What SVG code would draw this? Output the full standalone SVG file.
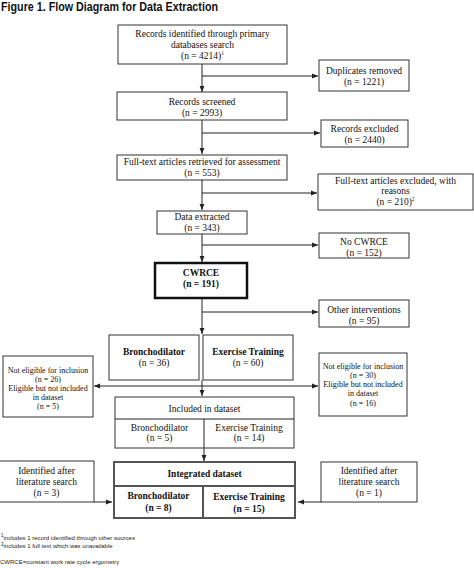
<svg xmlns="http://www.w3.org/2000/svg" width="474" height="568" viewBox="0 0 474 568">
<defs>
<marker id="ah" viewBox="0 0 10 10" refX="10" refY="5" markerWidth="6" markerHeight="6" markerUnits="userSpaceOnUse" orient="auto-start-reverse">
<path d="M0,1 L10,5 L0,9 Z" fill="#222"/>
</marker>
</defs>
<style>
.bx{fill:#fff;stroke:#333;stroke-width:1}
.t{font-family:"Liberation Serif","Times New Roman",serif;font-size:9.5px;fill:#111;text-anchor:middle}
.s{font-size:8px}
.b{font-weight:bold}
.ln{fill:none;stroke:#222;stroke-width:1}
.fn{font-family:"Liberation Sans",Arial,sans-serif;font-size:6px;fill:#222}
</style>
<rect width="474" height="568" fill="#fff"/>
<text x="1" y="11" font-family="'Liberation Sans Narrow','Liberation Sans',Arial,sans-serif" font-weight="bold" font-size="13" textLength="217" lengthAdjust="spacingAndGlyphs" fill="#111">Figure 1. Flow Diagram for Data Extraction</text>

<g id="connectors">
<line class="ln" x1="202" y1="64" x2="202" y2="92" marker-end="url(#ah)"/>
<line class="ln" x1="202" y1="76" x2="318" y2="76" marker-end="url(#ah)"/>
<line class="ln" x1="202" y1="120" x2="202" y2="154" marker-end="url(#ah)"/>
<line class="ln" x1="202" y1="133" x2="320" y2="133" marker-end="url(#ah)"/>
<line class="ln" x1="202" y1="180" x2="202" y2="210" marker-end="url(#ah)"/>
<line class="ln" x1="202" y1="193" x2="317" y2="193" marker-end="url(#ah)"/>
<line class="ln" x1="202" y1="234" x2="202" y2="262" marker-end="url(#ah)"/>
<line class="ln" x1="202" y1="245" x2="318" y2="245" marker-end="url(#ah)"/>
<line class="ln" x1="202" y1="298" x2="202" y2="334" marker-end="url(#ah)"/>
<line class="ln" x1="202" y1="312" x2="318" y2="312" marker-end="url(#ah)"/>
<line class="ln" x1="202" y1="380" x2="202" y2="396" marker-end="url(#ah)"/>
<line class="ln" x1="94" y1="386" x2="318" y2="386" marker-start="url(#ah)" marker-end="url(#ah)"/>
<line class="ln" x1="204" y1="448" x2="204" y2="461" marker-end="url(#ah)"/>
<line class="ln" x1="94" y1="502" x2="112" y2="502" marker-end="url(#ah)"/>
<line class="ln" x1="321" y1="502" x2="298" y2="502" marker-end="url(#ah)"/>
</g>

<g id="records-identified">
<rect class="bx" x="118" y="25" width="169" height="39"/>
<text class="t" x="202.5" y="36.5">Records identified through primary</text>
<text class="t" x="202.5" y="47.5">databases search</text>
<text class="t" x="202.5" y="58.5">(n = 4214)<tspan font-size="5.5" dy="-4">1</tspan></text>
</g>
<g id="duplicates">
<rect class="bx" x="319" y="60" width="90" height="31"/>
<text class="t" x="364" y="74">Duplicates removed</text>
<text class="t" x="364" y="85">(n = 1221)</text>
</g>
<g id="records-screened">
<rect class="bx" x="117" y="92" width="170" height="28"/>
<text class="t" x="202" y="104.5">Records screened</text>
<text class="t" x="202" y="115.5">(n = 2993)</text>
</g>
<g id="records-excluded">
<rect class="bx" x="321" y="120" width="87" height="27"/>
<text class="t" x="364.5" y="131.5">Records excluded</text>
<text class="t" x="364.5" y="142.5">(n = 2440)</text>
</g>
<g id="fulltext-retrieved">
<rect class="bx" x="117" y="155" width="170" height="25"/>
<text class="t" x="202" y="165">Full-text articles retrieved for assessment</text>
<text class="t" x="202" y="175.5">(n = 553)</text>
</g>
<g id="fulltext-excluded">
<rect class="bx" x="318" y="174" width="155" height="36"/>
<text class="t" x="395.5" y="183.5">Full-text articles excluded, with</text>
<text class="t" x="395.5" y="194">reasons</text>
<text class="t" x="395.5" y="205">(n = 210)<tspan font-size="5.5" dy="-4">2</tspan></text>
</g>
<g id="data-extracted">
<rect class="bx" x="157" y="211" width="90" height="23"/>
<text class="t" x="202" y="219.5">Data extracted</text>
<text class="t" x="202" y="230.5">(n = 343)</text>
</g>
<g id="no-cwrce">
<rect class="bx" x="319" y="233" width="90" height="25"/>
<text class="t" x="364" y="244.5">No CWRCE</text>
<text class="t" x="364" y="255.5">(n = 152)</text>
</g>
<g id="cwrce">
<rect x="155" y="263" width="92" height="35" fill="#fff" stroke="#111" stroke-width="2.5"/>
<text class="t b" x="201" y="276">CWRCE</text>
<text class="t b" x="201" y="287">(n = 191)</text>
</g>
<g id="other-interventions">
<rect class="bx" x="319" y="300" width="90" height="27"/>
<text class="t" x="364" y="312.5">Other interventions</text>
<text class="t" x="364" y="323.5">(n = 95)</text>
</g>
<g id="bronchodilator">
<rect class="bx" x="109" y="335" width="90" height="45"/>
<text class="t b" x="154" y="355">Bronchodilator</text>
<text class="t" x="154" y="366">(n = 36)</text>
</g>
<g id="exercise-training">
<rect class="bx" x="203" y="335" width="90" height="45"/>
<text class="t b" x="248" y="355">Exercise Training</text>
<text class="t" x="248" y="366">(n = 60)</text>
</g>
<g id="not-eligible-left">
<rect class="bx" x="3" y="356" width="90" height="61"/>
<text class="t s" x="48" y="372.5">Not eligible for inclusion</text>
<text class="t s" x="48" y="381.5">(n = 26)</text>
<text class="t s" x="48" y="390.5">Eligible but not included</text>
<text class="t s" x="48" y="399.5">in dataset</text>
<text class="t s" x="48" y="409">(n = 5)</text>
</g>
<g id="not-eligible-right">
<rect class="bx" x="319" y="353" width="88" height="63"/>
<text class="t s" x="363" y="369">Not eligible for inclusion</text>
<text class="t s" x="363" y="378">(n = 30)</text>
<text class="t s" x="363" y="387">Eligible but not included</text>
<text class="t s" x="363" y="396">in dataset</text>
<text class="t s" x="363" y="405.5">(n = 16)</text>
</g>
<g id="included">
<rect class="bx" x="115" y="397" width="179" height="51"/>
<line class="ln" x1="115" y1="419" x2="294" y2="419" stroke="#333"/>
<line class="ln" x1="204" y1="419" x2="204" y2="448" stroke="#333"/>
<text class="t" x="204.5" y="411.5">Included in dataset</text>
<text class="t" x="159.5" y="431">Bronchodilator</text>
<text class="t" x="159.5" y="441">(n = 5)</text>
<text class="t" x="249" y="431">Exercise Training</text>
<text class="t" x="249" y="441">(n = 14)</text>
</g>
<g id="integrated">
<rect x="114" y="462" width="181" height="56" fill="#fff" stroke="#555" stroke-width="2"/>
<line x1="114" y1="486" x2="295" y2="486" stroke="#555" stroke-width="2"/>
<line x1="203" y1="486" x2="203" y2="518" stroke="#555" stroke-width="2"/>
<text class="t b" x="204.5" y="477">Integrated dataset</text>
<text class="t b" x="158.5" y="499">Bronchodilator</text>
<text class="t b" x="158.5" y="511">(n = 8)</text>
<text class="t b" x="249" y="500">Exercise Training</text>
<text class="t b" x="249" y="512">(n = 15)</text>
</g>
<g id="identified-left">
<rect class="bx" x="-1" y="461" width="95" height="41"/>
<text class="t" x="46.5" y="474">Identified after</text>
<text class="t" x="46.5" y="485">literature search</text>
<text class="t" x="46.5" y="496">(n = 3)</text>
</g>
<g id="identified-right">
<rect class="bx" x="321" y="462" width="96" height="40"/>
<text class="t" x="369" y="474">Identified after</text>
<text class="t" x="369" y="485">literature search</text>
<text class="t" x="369" y="496">(n = 1)</text>
</g>
<g id="footnotes">
<text class="fn" x="1" y="539.5"><tspan font-size="4.5" dy="-2.5">1</tspan><tspan dy="2.5">includes 1 record identified through other sources</tspan></text>
<text class="fn" x="1" y="548"><tspan font-size="4.5" dy="-2.5">2</tspan><tspan dy="2.5">includes 1 full text which was unavailable</tspan></text>
<text class="fn" x="0" y="564">CWRCE=constant work rate cycle ergometry</text>
</g>
</svg>
